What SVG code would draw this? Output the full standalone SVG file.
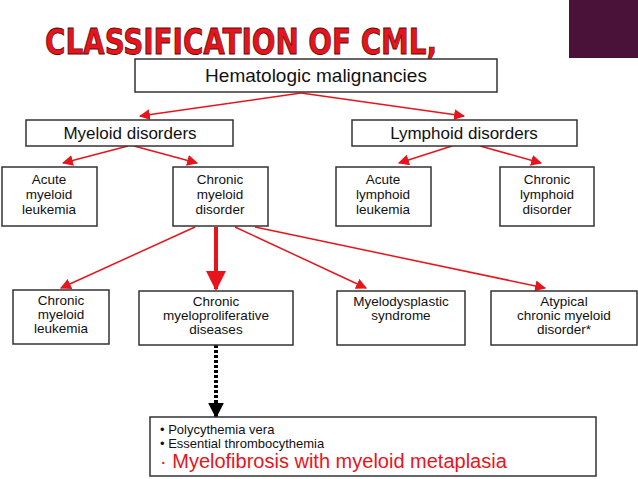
<svg xmlns="http://www.w3.org/2000/svg" width="638" height="479" viewBox="0 0 638 479">
<style>
.b{fill:#fff;stroke:#333;stroke-width:1.5}
text{font-family:"Liberation Sans",Arial,sans-serif;fill:#111;text-anchor:middle}
.s{font-size:13.5px}
.m{font-size:17px}
.r{stroke:#e8141c;stroke-width:1.5;fill:none}
</style>
<defs>
<marker id="a" viewBox="0 0 10 10" refX="9" refY="5" markerWidth="11" markerHeight="11" orient="auto" markerUnits="userSpaceOnUse"><path d="M0,0L10,5L0,10z" fill="#e8141c"/></marker>
<marker id="a2" viewBox="0 0 10 10" refX="9" refY="5" markerWidth="20" markerHeight="22" orient="auto" markerUnits="userSpaceOnUse"><path d="M0,0L10,5L0,10z" fill="#e8141c"/></marker>
<marker id="ab" viewBox="0 0 10 10" refX="9" refY="5" markerWidth="16" markerHeight="18" orient="auto" markerUnits="userSpaceOnUse"><path d="M0,0L10,5L0,10z" fill="#000"/></marker>
</defs>
<rect width="638" height="479" fill="#fff"/>
<rect x="569" y="0" width="69" height="58" fill="#4a1238"/>
<text x="45" y="54" style="text-anchor:start;font-family:'DejaVu Sans Condensed','DejaVu Sans',sans-serif;font-weight:bold;font-size:36px;fill:#e8141c;stroke:#5a0a0a;stroke-width:0.8" textLength="392" lengthAdjust="spacingAndGlyphs">CLASSIFICATION OF CML,</text>
<g id="connectors">
<line class="r" x1="301" y1="93" x2="140" y2="116" marker-end="url(#a)"/>
<line class="r" x1="301" y1="93" x2="464" y2="116" marker-end="url(#a)"/>
<line class="r" x1="128" y1="146" x2="63" y2="163" marker-end="url(#a)"/>
<line class="r" x1="134" y1="146" x2="197" y2="163" marker-end="url(#a)"/>
<line class="r" x1="452" y1="146" x2="399" y2="163" marker-end="url(#a)"/>
<line class="r" x1="480" y1="146" x2="541" y2="163" marker-end="url(#a)"/>
<line class="r" x1="195" y1="227" x2="61" y2="288" marker-end="url(#a)"/>
<line x1="216" y1="227" x2="216" y2="289" stroke="#e8141c" stroke-width="4" marker-end="url(#a2)"/>
<line class="r" x1="235" y1="227" x2="366" y2="288" marker-end="url(#a)"/>
<line class="r" x1="255" y1="227" x2="545" y2="288" marker-end="url(#a)"/>
<line x1="216" y1="345" x2="216" y2="417" stroke="#000" stroke-width="4" stroke-dasharray="3,2" marker-end="url(#ab)"/>
</g>
<g id="hem"><rect class="b" x="135" y="59" width="362" height="33"/><text x="316" y="82" style="font-size:19px">Hematologic malignancies</text></g>
<g id="mye"><rect class="b" x="26" y="120" width="207" height="26"/><text x="130" y="139" class="m">Myeloid disorders</text></g>
<g id="lym"><rect class="b" x="352" y="120" width="225" height="26"/><text x="464" y="139" class="m">Lymphoid disorders</text></g>
<g id="aml"><rect class="b" x="2" y="167" width="95" height="59"/><text class="s" x="49" y="184">Acute</text><text class="s" x="49" y="199">myeloid</text><text class="s" x="49" y="214">leukemia</text></g>
<g id="cmd"><rect class="b" x="173" y="167" width="95" height="59"/><text class="s" x="220" y="184">Chronic</text><text class="s" x="220" y="199">myeloid</text><text class="s" x="220" y="214">disorder</text></g>
<g id="all"><rect class="b" x="336" y="167" width="95" height="59"/><text class="s" x="383" y="184">Acute</text><text class="s" x="383" y="199">lymphoid</text><text class="s" x="383" y="214">leukemia</text></g>
<g id="cld"><rect class="b" x="500" y="167" width="94" height="59"/><text class="s" x="547" y="184">Chronic</text><text class="s" x="547" y="199">lymphoid</text><text class="s" x="547" y="214">disorder</text></g>
<g id="cml"><rect class="b" x="13" y="290" width="96" height="54"/><text class="s" x="61" y="305">Chronic</text><text class="s" x="61" y="319">myeloid</text><text class="s" x="61" y="333">leukemia</text></g>
<g id="cmpd"><rect class="b" x="139" y="291" width="154" height="54"/><text class="s" x="216" y="306">Chronic</text><text class="s" x="216" y="320">myeloproliferative</text><text class="s" x="216" y="334">diseases</text></g>
<g id="mds"><rect class="b" x="337" y="291" width="128" height="54"/><text class="s" x="401" y="306">Myelodysplastic</text><text class="s" x="401" y="320">syndrome</text></g>
<g id="acml"><rect class="b" x="491" y="291" width="146" height="54"/><text class="s" x="564" y="306">Atypical</text><text class="s" x="564" y="320">chronic myeloid</text><text class="s" x="564" y="334">disorder*</text></g>
<g id="list"><rect class="b" x="150" y="417" width="446" height="59"/>
<text x="160" y="434" style="text-anchor:start;font-size:13px">• Polycythemia vera</text>
<text x="160" y="448" style="text-anchor:start;font-size:13px">• Essential thrombocythemia</text>
<text x="160" y="468" style="text-anchor:start;font-size:20px;fill:#e8141c">· Myelofibrosis with myeloid metaplasia</text></g>
</svg>
